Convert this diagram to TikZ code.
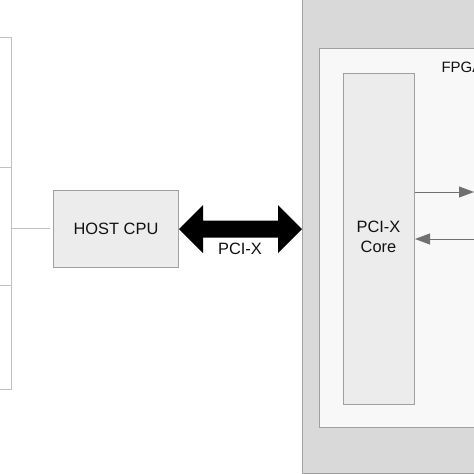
\documentclass[tikz,border=0pt]{standalone}
\usepackage{fontspec}
\setmainfont{Liberation Sans}
\usetikzlibrary{arrows.meta,calc}
\definecolor{boxfill}{HTML}{ECECEC}
\definecolor{boxline}{HTML}{A0A0A0}
\definecolor{outerfill}{HTML}{D9D9D9}
\definecolor{innerfill}{HTML}{F8F8F8}
\definecolor{leftline}{HTML}{C0C0C0}
\definecolor{arrowgray}{HTML}{707070}
\definecolor{txt}{HTML}{111111}
\begin{document}
\begin{tikzpicture}[x=1pt,y=-1pt,
  lbox/.style={draw=leftline,line width=0.8pt},
  graybox/.style={draw=boxline,fill=boxfill,line width=1pt},
  lbl/.style={text=txt,font=\fontsize{16.4}{19.5}\selectfont,align=center},
  sig/.style={draw=arrowgray,line width=0.8pt,-{Triangle[length=15pt,width=11pt]}}]
\useasboundingbox (0,0) rectangle (474,474);
\clip (0,0) rectangle (474,474);
\fill[white] (0,0) rectangle (474,474);
% left stacked boxes (cut by left edge)
\draw[lbox] (-20,37) rectangle (11,167);
\draw[lbox] (-20,167) rectangle (11,285);
\coordinate (lmid) at (11,228.5);
\draw[lbox] (-20,285) rectangle (11,389);
% host CPU
\node[graybox,lbl,minimum width=125pt,minimum height=77pt,anchor=north west] (cpu) at (53,190) {HOST CPU};
\draw[draw=leftline,line width=0.8pt,shorten >=3pt] (lmid) -- (lmid -| cpu.west);
% FPGA board
\node[draw=boxline,fill=outerfill,line width=1pt,minimum width=190pt,minimum height=480pt,anchor=north west,inner sep=0pt] (fpga) at (302,-7) {};
\node[draw=boxline,fill=innerfill,line width=1pt,minimum width=170pt,minimum height=379pt,anchor=north west,inner sep=0pt] (inner) at (319,48) {};
\node[lbl,anchor=base west,font=\fontsize{15}{18}\selectfont] (fpgalbl) at (438,72) {FPGA};
\node[graybox,minimum width=71pt,minimum height=331pt,anchor=north west,inner sep=0pt] (core) at (343,73) {};
\node[lbl] (corelbl) at (378.5,237) {PCI-X\\Core};
% PCI-X bus double arrow
\coordinate (a) at (cpu.east);
\coordinate (b) at (fpga.west |- cpu.east);
\fill[black] (a) -- ($(a)+(24,24)$) -- ($(a)+(24,8.5)$) -- ($(b)+(-24,8.5)$) -- ($(b)+(-24,24)$) -- (b)
  -- ($(b)+(-24,-24)$) -- ($(b)+(-24,-8.5)$) -- ($(a)+(24,-8.5)$) -- ($(a)+(24,-24)$) -- cycle;
\node[lbl,anchor=base] (buslbl) at (240,254) {PCI-X};
% signals
\coordinate (outr) at (474,192);
\coordinate (inr) at (480,239);
\draw[sig] (core.east |- outr) -- (outr);
\draw[sig] (inr) -- (core.east |- inr);
\end{tikzpicture}
\end{document}
